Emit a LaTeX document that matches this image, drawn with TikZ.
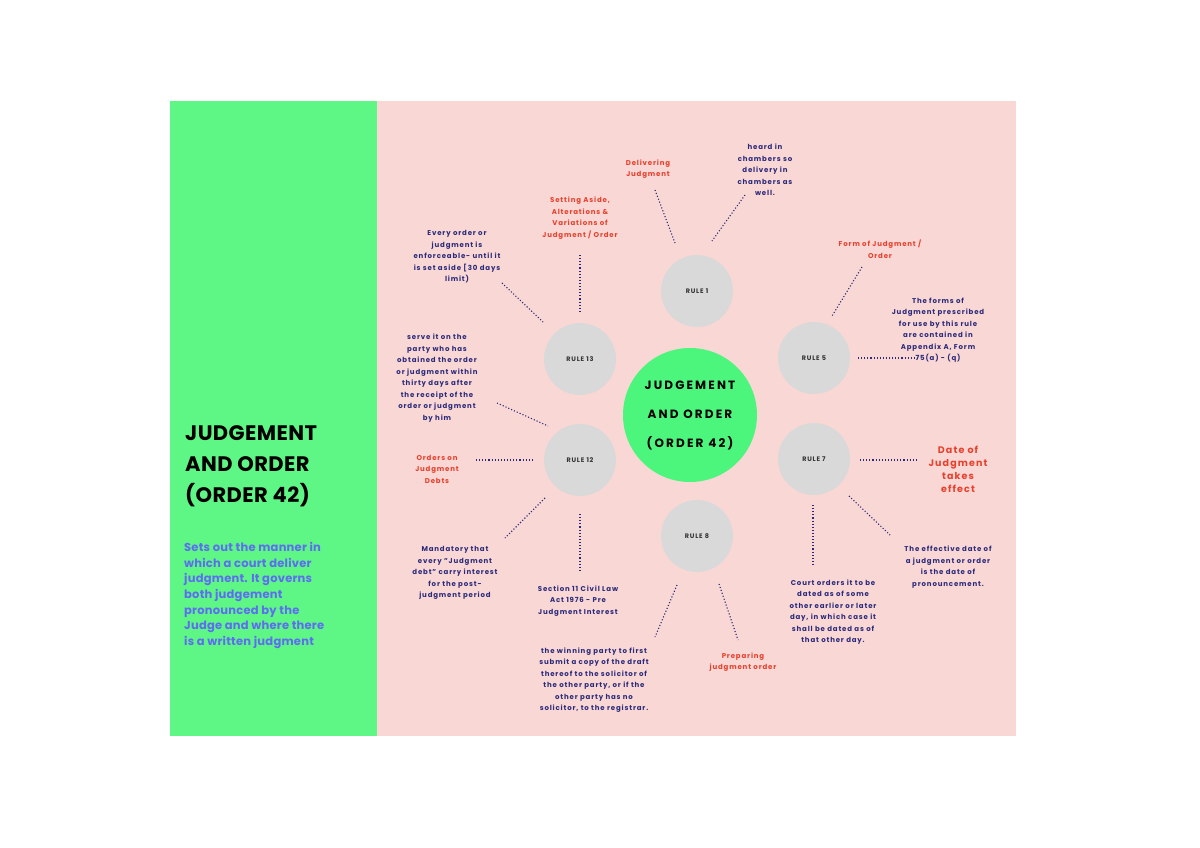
\documentclass[tikz,border=0pt]{standalone}
\usepackage{fontspec}
\setmainfont{Poppins}[LetterSpace=12]
\newfontfamily\titlefont{Poppins}[LetterSpace=2]
\newfontfamily\bigfont{Poppins}[LetterSpace=18]
\definecolor{navy}{HTML}{2B2A7A}
\definecolor{redt}{HTML}{E8402C}
\definecolor{pinkbg}{HTML}{F9D7D4}
\definecolor{greenbg}{HTML}{5EF785}
\definecolor{greenc}{HTML}{4CF57C}
\definecolor{greyc}{HTML}{D9D9D9}
\definecolor{bluet}{HTML}{5D6CF2}
\begin{document}
\begin{tikzpicture}[x=1pt,y=-1pt,
  rulec/.style={circle,fill=greyc,minimum size=72pt,inner sep=0pt,font=\fontsize{6.5}{8}\selectfont\bfseries,text=black!80},
  note/.style={align=center,text=navy,font=\fontsize{7}{11.5}\selectfont\bfseries,inner sep=0pt},
  rnote/.style={note,text=redt},
  dot/.style={navy,dotted,line width=1.1pt}]
\useasboundingbox (0,0) rectangle (1200,848);
\fill[white] (0,0) rectangle (1200,848);
\fill[greenbg] (170,101) rectangle (377,736);
\fill[pinkbg] (377,101) rectangle (1016,736);
% left panel
\node[anchor=north west,align=left,inner sep=0pt,font=\fontsize{21}{31}\selectfont\bfseries\titlefont] (ltitle) at (185,425) {JUDGEMENT\\AND ORDER\\(ORDER 42)};
\node[anchor=north west,align=left,inner sep=0pt,text=bluet,font=\fontsize{11.5}{15.7}\selectfont\bfseries\titlefont] (ldesc) at (184,542) {Sets out the manner in\\which a court deliver\\judgment. It governs\\both judgement\\pronounced by the\\Judge and where there\\is a written judgment};
% circles
\node[circle,fill=greenc,minimum size=134pt,align=center,font=\fontsize{12}{29}\selectfont\bfseries\bigfont] (c) at (690,415) {JUDGEMENT\\AND ORDER\\(ORDER 42)};
\node[rulec] (r1) at (697,291) {RULE 1};
\node[rulec] (r13) at (580,359) {RULE 13};
\node[rulec] (r5) at (814,358) {RULE 5};
\node[rulec] (r12) at (580,460) {RULE 12};
\node[rulec] (r7) at (814,459) {RULE 7};
\node[rulec] (r8) at (697,536) {RULE 8};
% notes
\node[rnote] (t1) at (648,169) {Delivering\\Judgment};
\node[note] (t2) at (765,170) {heard in\\chambers so\\delivery in\\chambers as\\well.};
\node[rnote] (t3) at (580,218) {Setting Aside,\\Alterations \&\\Variations of\\Judgment / Order};
\node[note] (t4) at (457,257) {Every order or\\judgment is\\enforceable- until it\\is set aside [30 days\\limit)};
\node[note] (t5) at (437,378) {serve it on the\\party who has\\obtained the order\\or judgment within\\thirty days after\\the receipt of the\\order or judgment\\by him};
\node[rnote] (t6) at (880,249) {Form of Judgment /\\Order};
\node[note] (t7) at (938,330) {The forms of\\Judgment prescribed\\for use by this rule\\are contained in\\Appendix A, Form\\75(a) - (q)};
\node[rnote,font=\fontsize{9.5}{13}\selectfont\bfseries] (t8) at (958,469) {Date of\\Judgment\\takes\\effect};
\node[rnote] (t9) at (437,469) {Orders on\\Judgment\\Debts};
\node[note] (t10) at (455,573) {Mandatory that\\every "Judgment\\debt" carry interest\\for the post-\\judgment period};
\node[note] (t11) at (578,601) {Section 11 Civil Law\\Act 1976 - Pre\\Judgment Interest};
\node[note] (t12) at (594,680) {the winning party to first\\submit a copy of the draft\\thereof to the solicitor of\\the other party, or if the\\other party has no\\solicitor, to the registrar.};
\node[rnote] (t13) at (743,662) {Preparing\\judgment order};
\node[note] (t14) at (833,612) {Court orders it to be\\dated as of some\\other earlier or later\\day, in which case it\\shall be dated as of\\that other day.};
\node[note] (t15) at (948,567) {The effective date of\\a judgment or order\\is the date of\\pronouncement.};
% connector ends
\foreach \n/\a/\b/\c/\d in {a/655/190/675/243, b/745/195/712/241, c/580/255/580/312, d/502/283/543/322,
  e/862/267/832/316, f/858/358/918/358, g/497/403/548/426, h/476/460/533/460, i/860/460/918/460,
  j/545/498/505/538, k/580/514/580/572, l/677/585/655/637, m/719/584/738/640, n/813/505/813/564, o/849/496/890/535}{
  \coordinate (\n1) at (\a,\b); \coordinate (\n2) at (\c,\d); \draw[dot] (\n1) -- (\n2);}
\end{tikzpicture}
\end{document}
